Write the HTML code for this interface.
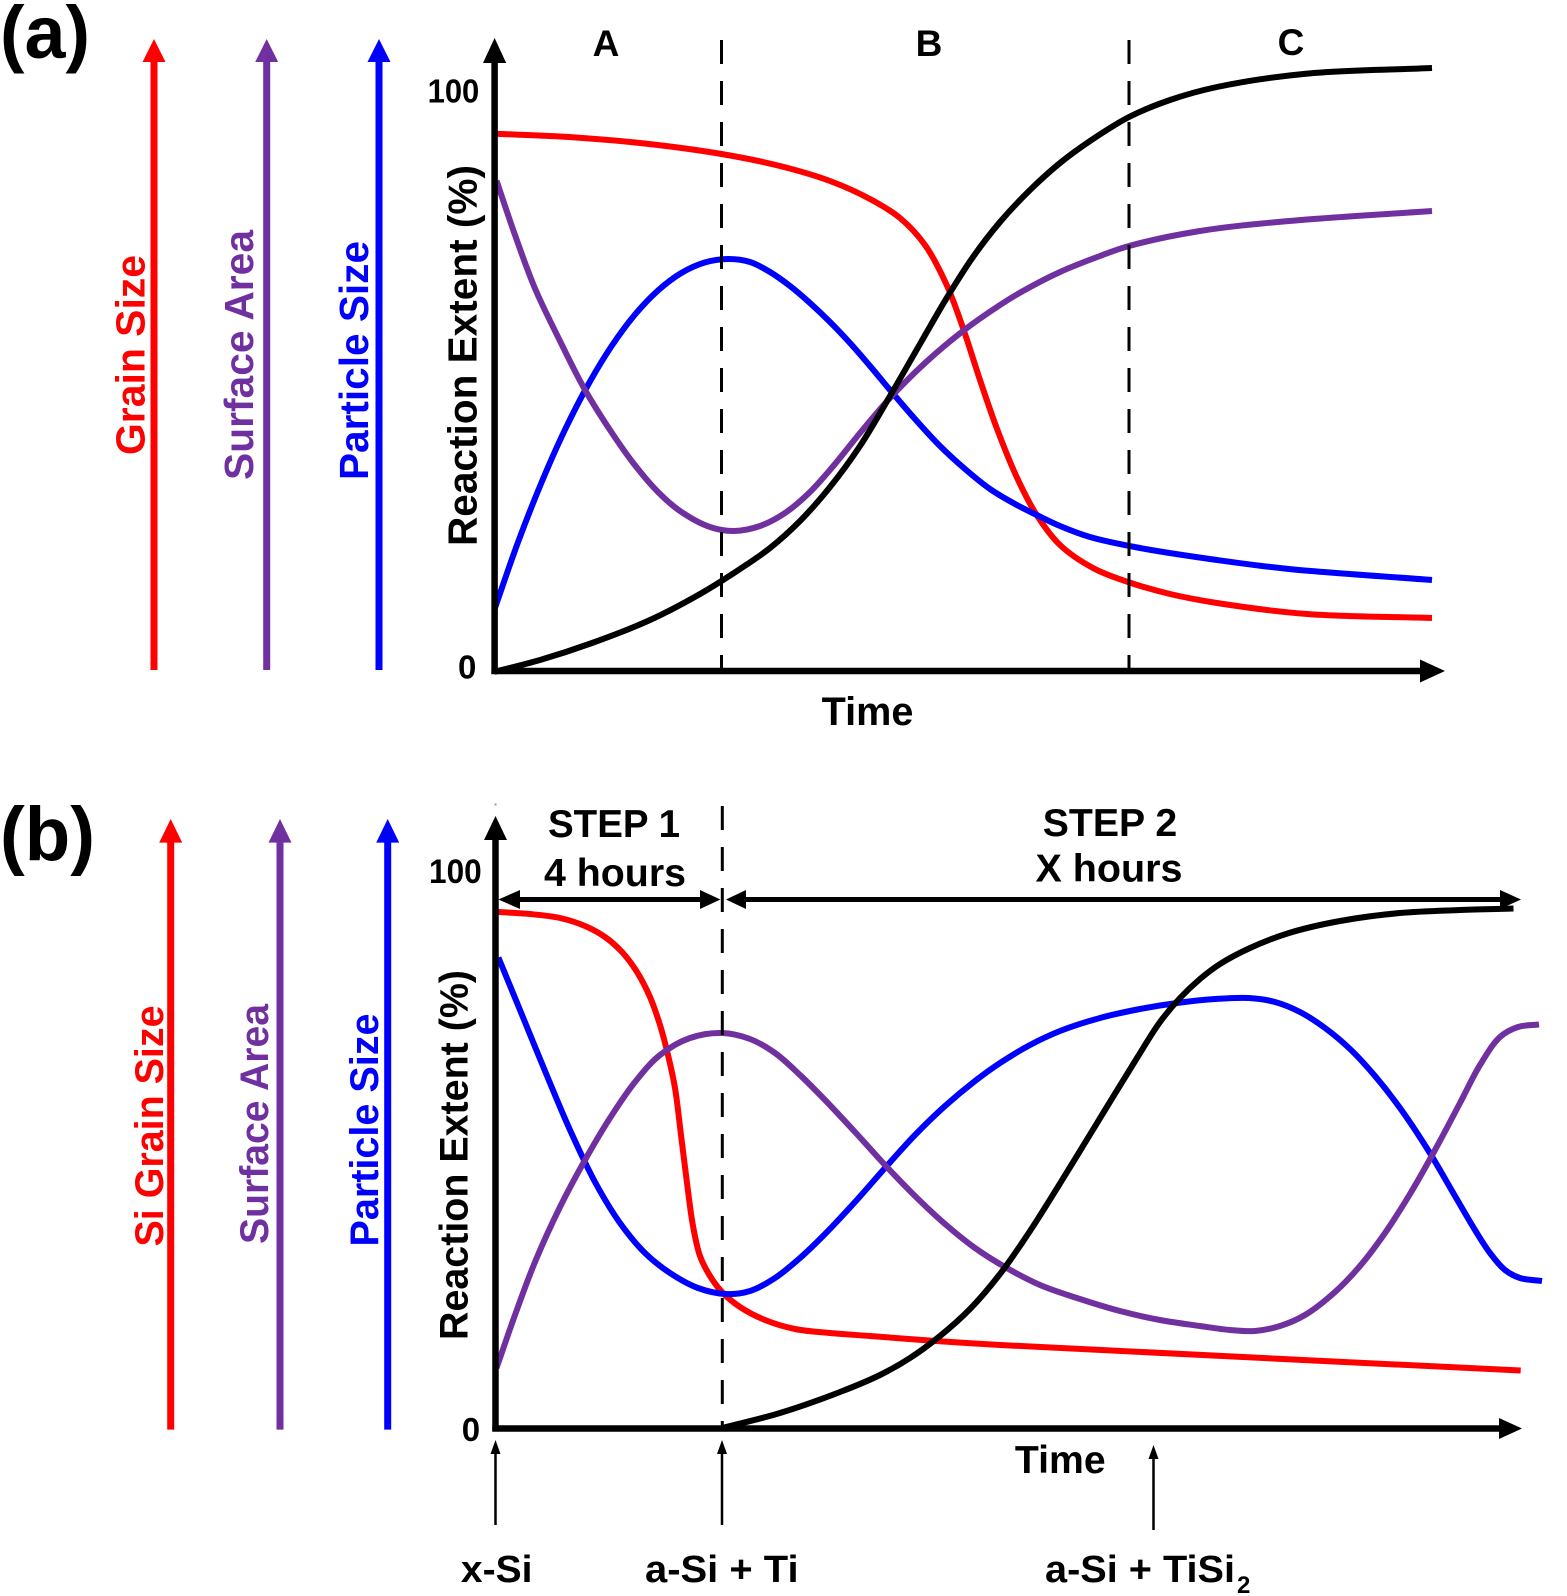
<!DOCTYPE html>
<html>
<head>
<meta charset="utf-8">
<style>
  html,body{margin:0;padding:0;background:#fff;}
  svg{display:block;}
  text{font-family:"Liberation Sans",Arial,sans-serif;font-weight:bold;}
</style>
</head>
<body>
<svg xmlns="http://www.w3.org/2000/svg" width="1567" height="1596" viewBox="0 0 1567 1596">
<rect width="1567" height="1596" fill="#fff"/>

<!-- ================= PANEL (a) ================= -->
<text x="0" y="58" font-size="74" textLength="90" lengthAdjust="spacingAndGlyphs">(a)</text>

<g stroke-width="7">
  <line x1="154" y1="670" x2="154" y2="58" stroke="#ff0000"/>
  <line x1="266.7" y1="670" x2="266.7" y2="58" stroke="#7030a0"/>
  <line x1="379" y1="670" x2="379" y2="58" stroke="#0000ff"/>
</g>
<polygon points="154,39 142.5,62 165.5,62" fill="#ff0000"/>
<polygon points="266.7,39 255.2,62 278.2,62" fill="#7030a0"/>
<polygon points="379,39 367.5,62 390.5,62" fill="#0000ff"/>

<text transform="translate(144.5,355) rotate(-90)" text-anchor="middle" font-size="41" fill="#ff0000" textLength="200" lengthAdjust="spacingAndGlyphs">Grain Size</text>
<text transform="translate(253,355) rotate(-90)" text-anchor="middle" font-size="41" fill="#7030a0" textLength="250" lengthAdjust="spacingAndGlyphs">Surface Area</text>
<text transform="translate(368,360.5) rotate(-90)" text-anchor="middle" font-size="41" fill="#0000ff" textLength="239" lengthAdjust="spacingAndGlyphs">Particle Size</text>
<text transform="translate(476.5,355.5) rotate(-90)" text-anchor="middle" font-size="41" fill="#000" textLength="381" lengthAdjust="spacingAndGlyphs">Reaction Extent (%)</text>

<text x="427.6" y="102.6" font-size="33" textLength="51.7" lengthAdjust="spacingAndGlyphs">100</text>
<text x="458" y="678.5" font-size="33">0</text>

<text x="606" y="56" font-size="37" text-anchor="middle">A</text>
<text x="929" y="56" font-size="37" text-anchor="middle">B</text>
<text x="1291" y="55" font-size="37" text-anchor="middle">C</text>
<text x="867.5" y="725" font-size="40" text-anchor="middle" textLength="91.7" lengthAdjust="spacingAndGlyphs">Time</text>

<!-- curves (a) -->
<g fill="none" stroke-width="6" stroke-linejoin="round">
  <path class="c" stroke="#ff0000" d="M494.6,133.8 L560,136.5 L640,143 L721.5,154 L780,166 L830,181 L870,199 L900,218 L925,245 L946.7,285 L963,328 L980,380 L996.7,428 L1016.7,477 L1036.7,515 L1060,545 L1093,568 L1128,582 L1170,594 L1217,603 L1307,614 L1432,618"/>
  <path class="c" stroke="#0000ff" d="M494.6,609 L517.9,542.5 L541.3,483 L564.6,430.5 L588,385 L611.3,346.5 L634.6,315 L658,290.5 L681.3,273 L704.7,262.5 L728,259 L750,262 L770,272 L790,286 L810,303 L830,322 L850,343 L870,366 L890,390 L915,419 L940,446 L965,469 L990,489 L1015,504 L1036.7,515 L1060,526 L1090,537 L1140,548 L1217,560 L1289,569 L1432,580"/>
  <path class="c" stroke="#7030a0" d="M496.5,180.7 L515,235 L534.8,288 L560,341 L584.5,389 L610,430 L634,464 L658,492 L680,511 L710,527 L733.8,531 L760,526 L785,513 L810,492 L835,464 L860,433 L890,398 L925,363 L963,331 L1000,305 L1023,291 L1060,272 L1100,256 L1129,246 L1200,231 L1289,221 L1432,211"/>
  <path class="c" stroke="#000" d="M494.6,671.8 L540,660 L592,643 L650,620 L700,594 L740,569 L770,548 L800,521 L830,487 L860,446 L890,396 L920,344 L946.7,298 L973,257 L1000,222 L1030,190 L1060,163 L1090,141 L1129,117 L1170,100 L1217,87 L1307,73.6 L1432,68"/>
</g>

<g stroke="#000" stroke-width="3" stroke-dasharray="24 17">
  <line x1="721.5" y1="40" x2="721.5" y2="671"/>
  <line x1="1129" y1="40" x2="1129" y2="671"/>
</g>

<g stroke="#000" stroke-width="6.5">
  <line x1="494.6" y1="674" x2="494.6" y2="58"/>
  <line x1="491.4" y1="671" x2="1425" y2="671"/>
</g>
<polygon points="494.6,38 483,63 506.2,63" fill="#000"/>
<polygon points="1445,671 1420,659.5 1420,682.5" fill="#000"/>

<!-- ================= PANEL (b) ================= -->
<text x="0" y="860" font-size="76" textLength="95" lengthAdjust="spacingAndGlyphs">(b)</text>

<g stroke-width="7">
  <line x1="170.7" y1="1429.6" x2="170.7" y2="838" stroke="#ff0000"/>
  <line x1="280" y1="1429.6" x2="280" y2="838" stroke="#7030a0"/>
  <line x1="387.7" y1="1429.6" x2="387.7" y2="838" stroke="#0000ff"/>
</g>
<polygon points="170.7,819 159.2,842.6 182.2,842.6" fill="#ff0000"/>
<polygon points="280,819 268.5,842.6 291.5,842.6" fill="#7030a0"/>
<polygon points="387.7,819 376.2,842.6 399.2,842.6" fill="#0000ff"/>

<text transform="translate(163,1126) rotate(-90)" text-anchor="middle" font-size="40" fill="#ff0000" textLength="241" lengthAdjust="spacingAndGlyphs">Si Grain Size</text>
<text transform="translate(268,1124) rotate(-90)" text-anchor="middle" font-size="40" fill="#7030a0" textLength="240" lengthAdjust="spacingAndGlyphs">Surface Area</text>
<text transform="translate(378,1130) rotate(-90)" text-anchor="middle" font-size="40" fill="#0000ff" textLength="233" lengthAdjust="spacingAndGlyphs">Particle Size</text>
<text transform="translate(467.5,1155) rotate(-90)" text-anchor="middle" font-size="40" fill="#000" textLength="370" lengthAdjust="spacingAndGlyphs">Reaction Extent (%)</text>

<text x="429" y="882.8" font-size="34" textLength="52.7" lengthAdjust="spacingAndGlyphs">100</text>
<text x="461.7" y="1440.8" font-size="33">0</text>

<text x="614" y="837" font-size="38.5" text-anchor="middle" textLength="132" lengthAdjust="spacingAndGlyphs">STEP 1</text>
<text x="615" y="886" font-size="39" text-anchor="middle" textLength="142" lengthAdjust="spacingAndGlyphs">4 hours</text>
<text x="1110" y="836" font-size="38.5" text-anchor="middle" textLength="134.5" lengthAdjust="spacingAndGlyphs">STEP 2</text>
<text x="1109" y="881.6" font-size="39" text-anchor="middle" textLength="147" lengthAdjust="spacingAndGlyphs">X hours</text>

<text x="1060.3" y="1473" font-size="39" text-anchor="middle" textLength="90.7" lengthAdjust="spacingAndGlyphs">Time</text>

<text x="496.7" y="1582" font-size="38" text-anchor="middle" textLength="71.5" lengthAdjust="spacingAndGlyphs">x-Si</text>
<text x="721.8" y="1582" font-size="38" text-anchor="middle" textLength="153.5" lengthAdjust="spacingAndGlyphs">a-Si + Ti</text>
<text x="1045" y="1582" font-size="38" textLength="190" lengthAdjust="spacingAndGlyphs">a-Si + TiSi</text>
<text x="1237" y="1593" font-size="24">2</text>

<!-- curves (b) -->
<g fill="none" stroke-width="6" stroke-linejoin="round">
  <path class="c" stroke="#ff0000" d="M498.4,912 L530,914 L560,918 L585,926 L605,937 L622,952 L637,972 L650,997 L660,1025 L668,1055 L675,1088 L681,1135 L687,1183 L693,1226 L700,1256 L710,1276 L722,1292 L740,1307 L765,1320 L795,1329 L830,1333 L870,1336 L936,1341 L1000,1345 L1520.7,1370.5"/>
  <path class="c" stroke="#0000ff" d="M498.4,957.5 L520,1010 L545,1071 L570,1130 L595,1182 L620,1223 L645,1253 L670,1273 L698,1288 L726,1294 L750,1291 L775,1278 L800,1258 L825,1234 L855,1202 L885,1168 L915,1135 L945,1106 L975,1081 L1000,1063 L1030,1045 L1060,1031 L1100,1018 L1140,1009 L1177,1003 L1215,999 L1249,998 L1275,1002 L1300,1012 L1325,1028 L1350,1049 L1375,1076 L1400,1108 L1428,1150 L1455,1196 L1475,1230 L1490,1253 L1505,1270 L1520,1278 L1542,1281"/>
  <path class="c" stroke="#7030a0" d="M496.5,1368 L515,1315 L535,1262 L560,1207 L585,1160 L610,1118 L635,1082 L660,1055 L690,1038 L722,1033 L750,1039 L775,1053 L800,1075 L825,1100 L855,1132 L885,1165 L915,1196 L945,1224 L975,1248 L1005,1267 L1040,1285 L1080,1299 L1120,1311 L1160,1320 L1200,1326 L1230,1330 L1255,1331 L1280,1326 L1305,1315 L1335,1292 L1360,1266 L1385,1233 L1410,1194 L1435,1150 L1460,1103 L1480,1065 L1500,1037 L1518,1027 L1539,1024.5"/>
  <path class="c" stroke="#000" d="M722.3,1428 L780,1413 L840,1392 L880,1375 L910,1358 L940,1336 L970,1309 L1000,1274 L1030,1231 L1072,1164 L1105,1110 L1137,1058 L1160,1022 L1180,998 L1200,979 L1220,964 L1250,948 L1289,933 L1340,921 L1400,913 L1460,910 L1513.5,908.5"/>
</g>

<line x1="722.3" y1="806" x2="722.3" y2="1428" stroke="#000" stroke-width="3" stroke-dasharray="24 17"/>

<g stroke="#000" stroke-width="5">
  <line x1="515" y1="899.5" x2="704" y2="899.5"/>
  <line x1="743" y1="899.5" x2="1503" y2="899.5"/>
</g>
<g fill="#000">
  <polygon points="498.4,899.5 520,890 520,909"/>
  <polygon points="720.4,899.5 700,890 700,909"/>
  <polygon points="726,899.5 746,890 746,909"/>
  <polygon points="1521,899.5 1500,890 1500,909"/>
</g>

<g stroke="#000" stroke-width="6.5">
  <line x1="495.5" y1="1431.5" x2="495.5" y2="838"/>
  <line x1="492.3" y1="1428.5" x2="1502" y2="1428.5"/>
</g>
<polygon points="495.5,816 484,840 507,840" fill="#000"/>
<polygon points="1522,1428.5 1499,1418 1499,1439" fill="#000"/>
<rect x="494.5" y="803.5" width="2" height="2" fill="#999"/>

<g stroke="#000" stroke-width="2.5">
  <line x1="495.5" y1="1525" x2="495.5" y2="1450"/>
  <line x1="722" y1="1525" x2="722" y2="1450"/>
  <line x1="1153.5" y1="1530" x2="1153.5" y2="1455"/>
</g>
<g fill="#000">
  <polygon points="495.5,1440 490.5,1454 500.5,1454"/>
  <polygon points="722,1440 717,1454 727,1454"/>
  <polygon points="1153.5,1445 1148.5,1459 1158.5,1459"/>
</g>

</svg>
<script>
(function(){
  function ctrl(p0,p1,p2,p3){
    var a=0.5;
    var d1=Math.pow(Math.hypot(p1[0]-p0[0],p1[1]-p0[1]),a);
    var d2=Math.pow(Math.hypot(p2[0]-p1[0],p2[1]-p1[1]),a);
    var d3=Math.pow(Math.hypot(p3[0]-p2[0],p3[1]-p2[1]),a);
    var c1,c2;
    if(d1<1e-6){c1=[p1[0]+(p2[0]-p1[0])/3,p1[1]+(p2[1]-p1[1])/3];}
    else{
      var A=2*d1*d1+3*d1*d2+d2*d2, N=3*d1*(d1+d2);
      c1=[(d1*d1*p2[0]-d2*d2*p0[0]+A*p1[0])/N,(d1*d1*p2[1]-d2*d2*p0[1]+A*p1[1])/N];
    }
    if(d3<1e-6){c2=[p2[0]-(p2[0]-p1[0])/3,p2[1]-(p2[1]-p1[1])/3];}
    else{
      var B=2*d3*d3+3*d3*d2+d2*d2, M=3*d3*(d3+d2);
      c2=[(d3*d3*p1[0]-d2*d2*p3[0]+B*p2[0])/M,(d3*d3*p1[1]-d2*d2*p3[1]+B*p2[1])/M];
    }
    return [c1,c2];
  }
  var paths=document.querySelectorAll('path.c');
  for(var k=0;k<paths.length;k++){
    var p=paths[k];
    var n=p.getAttribute('d').match(/-?[\d.]+/g).map(Number);
    var P=[];
    for(var i=0;i<n.length;i+=2)P.push([n[i],n[i+1]]);
    var d='M'+P[0][0]+','+P[0][1];
    for(var i=0;i<P.length-1;i++){
      var p0=P[i-1]||P[i],p1=P[i],p2=P[i+1],p3=P[i+2]||P[i+1];
      var c=ctrl(p0,p1,p2,p3);
      d+=' C'+c[0][0].toFixed(2)+','+c[0][1].toFixed(2)+' '+c[1][0].toFixed(2)+','+c[1][1].toFixed(2)+' '+p2[0]+','+p2[1];
    }
    p.setAttribute('d',d);
  }
})();
</script>
</body>
</html>
